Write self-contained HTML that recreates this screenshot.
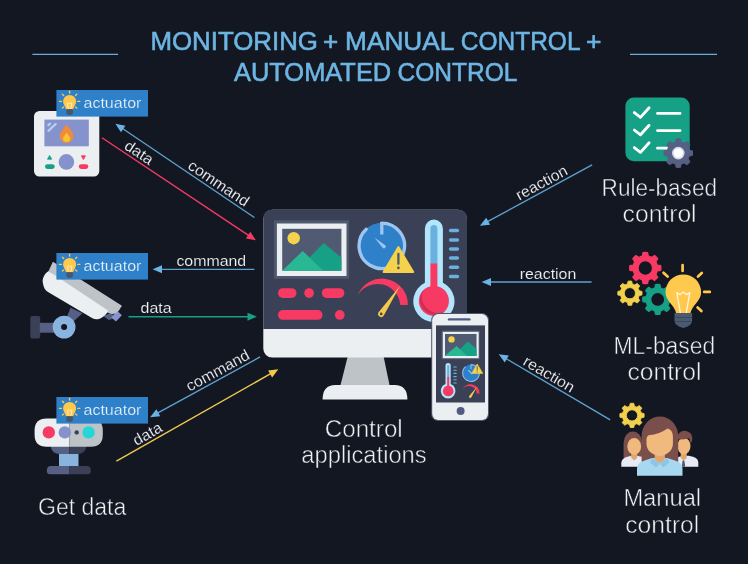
<!DOCTYPE html>
<html><head><meta charset="utf-8">
<style>
html,body{margin:0;padding:0;background:#131722;}
body{width:748px;height:564px;overflow:hidden;font-family:"Liberation Sans",sans-serif;}
svg{display:block}
text{font-family:"Liberation Sans",sans-serif;}
.t{fill:#6db5e3;font-size:25px;stroke:#6db5e3;stroke-width:.55px;}
.lb{fill:#eef0f3;font-size:23px;stroke:#131722;stroke-width:.5px;}
.sm{fill:#f0f1f3;font-size:15.4px;stroke:#131722;stroke-width:.15px;}
.ac{fill:#e9f2fc;font-size:15.1px;stroke:#2e80c9;stroke-width:.2px;}
</style></head><body>
<svg width="748" height="564" viewBox="0 0 748 564">
<rect width="748" height="564" fill="#131722"/>
<defs>
<filter id="nf" x="0" y="0" width="748" height="564" filterUnits="userSpaceOnUse"><feOffset dx="0" dy="0"/></filter>
<g id="bulbS">
  <g stroke="#ffc94d" stroke-width="1.3" stroke-linecap="round">
    <line x1="0" y1="-10.2" x2="0" y2="-8.2"/><line x1="-10.2" y1="0" x2="-8.2" y2="0"/><line x1="10.2" y1="0" x2="8.2" y2="0"/>
    <line x1="-7.2" y1="-7.2" x2="-5.9" y2="-5.9"/><line x1="7.2" y1="-7.2" x2="5.9" y2="-5.9"/>
    <line x1="-7.2" y1="6.6" x2="-5.9" y2="5.6"/><line x1="7.2" y1="6.6" x2="5.9" y2="5.6"/>
  </g>
  <path d="M-6.5 0a6.5 6.5 0 1 1 13 0c0 3-2.2 4.6-2.9 7.9h-7.2c-.7-3.300-2.900-4.900-2.900-7.900z" fill="#ffc94d"/>
  <path d="M-1.200 7.300l-1.100-5.200q1-1.200 2.300 0q1.300-1.200 2.300 0l-1.100 5.200" fill="none" stroke="#fff3d6" stroke-width=".9"/>
  <path d="M-3.300 7.900h6.600v3.400q0 2-3.300 2.300q-3.300-.3-3.300-2.300z" fill="#4a5568"/>
</g>
<g id="badge">
  <rect x=".4" y="0" width="91.600" height="26.600" fill="#2e80c9"/>
  <use href="#bulbS" x="13.600" y="11.400"/>
  <text class="ac" x="27.500" y="18" textLength="57.900" lengthAdjust="spacingAndGlyphs">actuator</text>
</g>
<path id="ah" d="M0 0l9.400 -4v8z"/>
<path id="gear8" d="M0.736 -0.188L0.954 -0.144A0.965 0.965 0 0 1 0.954 0.144L0.736 0.188A0.760 0.760 0 0 1 0.654 0.388L0.777 0.573A0.965 0.965 0 0 1 0.573 0.777L0.388 0.654A0.760 0.760 0 0 1 0.188 0.736L0.144 0.954A0.965 0.965 0 0 1 -0.144 0.954L-0.188 0.736A0.760 0.760 0 0 1 -0.388 0.654L-0.573 0.777A0.965 0.965 0 0 1 -0.777 0.573L-0.654 0.388A0.760 0.760 0 0 1 -0.736 0.188L-0.954 0.144A0.965 0.965 0 0 1 -0.954 -0.144L-0.736 -0.188A0.760 0.760 0 0 1 -0.654 -0.388L-0.777 -0.573A0.965 0.965 0 0 1 -0.573 -0.777L-0.388 -0.654A0.760 0.760 0 0 1 -0.188 -0.736L-0.144 -0.954A0.965 0.965 0 0 1 0.144 -0.954L0.188 -0.736A0.760 0.760 0 0 1 0.388 -0.654L0.573 -0.777A0.965 0.965 0 0 1 0.777 -0.573L0.654 -0.388A0.760 0.760 0 0 1 0.736 -0.188Z"/>
<path id="gear8h" fill-rule="evenodd" d="M0.736 -0.188L0.954 -0.144A0.965 0.965 0 0 1 0.954 0.144L0.736 0.188A0.760 0.760 0 0 1 0.654 0.388L0.777 0.573A0.965 0.965 0 0 1 0.573 0.777L0.388 0.654A0.760 0.760 0 0 1 0.188 0.736L0.144 0.954A0.965 0.965 0 0 1 -0.144 0.954L-0.188 0.736A0.760 0.760 0 0 1 -0.388 0.654L-0.573 0.777A0.965 0.965 0 0 1 -0.777 0.573L-0.654 0.388A0.760 0.760 0 0 1 -0.736 0.188L-0.954 0.144A0.965 0.965 0 0 1 -0.954 -0.144L-0.736 -0.188A0.760 0.760 0 0 1 -0.654 -0.388L-0.777 -0.573A0.965 0.965 0 0 1 -0.573 -0.777L-0.388 -0.654A0.760 0.760 0 0 1 -0.188 -0.736L-0.144 -0.954A0.965 0.965 0 0 1 0.144 -0.954L0.188 -0.736A0.760 0.760 0 0 1 0.388 -0.654L0.573 -0.777A0.965 0.965 0 0 1 0.777 -0.573L0.654 -0.388A0.760 0.760 0 0 1 0.736 -0.188ZM0.445 0A0.445 0.445 0 1 0 -0.445 0A0.445 0.445 0 1 0 0.445 0Z"/>
</defs>

<g filter="url(#nf)">
<!-- title -->
<g class="t">
<text x="150.400" y="50.300" textLength="167.600" lengthAdjust="spacingAndGlyphs">MONITORING</text>
<text x="323.100" y="50.300" textLength="15.200" lengthAdjust="spacingAndGlyphs">+</text>
<text x="345.100" y="50.300" textLength="109.200" lengthAdjust="spacingAndGlyphs">MANUAL</text>
<text x="460.800" y="50.300" textLength="119.700" lengthAdjust="spacingAndGlyphs">CONTROL</text>
<text x="586" y="50.300" textLength="15.500" lengthAdjust="spacingAndGlyphs">+</text>
<text x="234" y="81.400" textLength="157.200" lengthAdjust="spacingAndGlyphs">AUTOMATED</text>
<text x="397.500" y="81.400" textLength="120" lengthAdjust="spacingAndGlyphs">CONTROL</text>
</g>
<line x1="32.400" y1="54.300" x2="118.100" y2="54.300" stroke="#69aedb" stroke-width="1.350"/>
<line x1="630" y1="54.300" x2="717" y2="54.300" stroke="#69aedb" stroke-width="1.350"/>

<!-- ARROWS -->
<g id="arrows" stroke-width="1.350" fill="none">
  <line x1="254.400" y1="217.500" x2="121" y2="127.500" stroke="#5da1cf"/>
  <line x1="102" y1="137.800" x2="250" y2="236.400" stroke="#f73a63"/>
  <line x1="254.400" y1="269.300" x2="160" y2="269.300" stroke="#5da1cf"/>
  <line x1="128.500" y1="316.700" x2="250" y2="316.700" stroke="#16a085"/>
  <line x1="260.100" y1="356.900" x2="157" y2="413.400" stroke="#5da1cf"/>
  <line x1="116.400" y1="461.200" x2="272" y2="372.900" stroke="#f2c94c"/>
  <line x1="592.100" y1="164.800" x2="487" y2="221.900" stroke="#5da1cf"/>
  <line x1="591.600" y1="282" x2="489" y2="282" stroke="#5da1cf"/>
  <line x1="610.200" y1="419.800" x2="505" y2="358" stroke="#5da1cf"/>
</g>
<g id="heads">
  <use href="#ah" fill="#6bb3e2" transform="translate(115.400 123.700) rotate(34)"/>
  <use href="#ah" fill="#f73a63" transform="translate(255.900 240.300) rotate(213.700)"/>
  <use href="#ah" fill="#6bb3e2" transform="translate(152.600 269.300)"/>
  <use href="#ah" fill="#16a085" transform="translate(256.900 316.700) rotate(180)"/>
  <use href="#ah" fill="#6bb3e2" transform="translate(150.100 417.200) rotate(-28.700)"/>
  <use href="#ah" fill="#f2c94c" transform="translate(278.300 369.300) rotate(150.400)"/>
  <use href="#ah" fill="#6bb3e2" transform="translate(479.900 225.700) rotate(-28.500)"/>
  <use href="#ah" fill="#6bb3e2" transform="translate(481.600 282)"/>
  <use href="#ah" fill="#6bb3e2" transform="translate(498.700 354.300) rotate(30.500)"/>
</g>

<!-- arrow labels -->
<g class="sm" text-anchor="middle">
  <text transform="translate(136.300 156.800) rotate(33.700)" textLength="31.100" lengthAdjust="spacingAndGlyphs">data</text>
  <text transform="translate(215.800 187.600) rotate(34)" textLength="69.800" lengthAdjust="spacingAndGlyphs">command</text>
  <text x="211.300" y="266.100" textLength="69.800" lengthAdjust="spacingAndGlyphs">command</text>
  <text x="156.100" y="313.100" textLength="31.100" lengthAdjust="spacingAndGlyphs">data</text>
  <text transform="translate(220.200 375.100) rotate(-28.700)" textLength="69.800" lengthAdjust="spacingAndGlyphs">command</text>
  <text transform="translate(150 438.400) rotate(-29.600)" textLength="31.100" lengthAdjust="spacingAndGlyphs">data</text>
  <text transform="translate(544 187.300) rotate(-28.500)" textLength="56.600" lengthAdjust="spacingAndGlyphs">reaction</text>
  <text x="548" y="279.200" textLength="56.600" lengthAdjust="spacingAndGlyphs">reaction</text>
  <text transform="translate(546.400 378.600) rotate(30.400)" textLength="56.600" lengthAdjust="spacingAndGlyphs">reaction</text>
</g>

<!-- big labels -->
<g class="lb">
  <text x="324.800" y="437.100" textLength="77.900" lengthAdjust="spacingAndGlyphs">Control</text>
  <text x="301.300" y="463.200" textLength="125.400" lengthAdjust="spacingAndGlyphs">applications</text>
  <text x="38" y="515.400" textLength="88.300" lengthAdjust="spacingAndGlyphs">Get data</text>
  <text x="601.600" y="195.500" textLength="115.400" lengthAdjust="spacingAndGlyphs">Rule-based</text>
  <text x="622.600" y="222.100" textLength="74" lengthAdjust="spacingAndGlyphs">control</text>
  <text x="613.500" y="353.700" textLength="101.700" lengthAdjust="spacingAndGlyphs">ML-based</text>
  <text x="627.500" y="380.100" textLength="74" lengthAdjust="spacingAndGlyphs">control</text>
  <text x="623.400" y="506" textLength="77.700" lengthAdjust="spacingAndGlyphs">Manual</text>
  <text x="625.300" y="532.700" textLength="74" lengthAdjust="spacingAndGlyphs">control</text>
</g>

<!--DEVICES-->
<!-- thermostat -->
<g id="thermo">
  <rect x="34" y="111" width="65.300" height="65.500" rx="5.500" fill="#eceff1"/>
  <rect x="44.400" y="119.600" width="44.400" height="26.700" fill="#8592cc"/>
  <g stroke="#b3d1f0" stroke-width="2.300" stroke-linecap="round"><line x1="48.400" y1="125.200" x2="50.100" y2="123.700"/><line x1="48.400" y1="130.800" x2="55.700" y2="124"/></g>
  <path d="M66.600 124c1 3.200 6.800 6.800 6.800 12.200a6.800 6.800 0 0 1-13.600 0c0-5.400 5.800-9 6.800-12.200z" fill="#f08a3c"/>
  <path d="M66.600 132.400c.5 1.700 3.500 3.400 3.500 6a3.500 3.500 0 0 1-7 0c0-2.600 3-4.300 3.500-6z" fill="#f7c52d"/>
  <circle cx="66.400" cy="161.900" r="7.800" fill="#8592cc"/>
  <path d="M49.600 155.400l2.100 3.800h-4.200z" fill="#16a085" stroke="#16a085" stroke-width=".8" stroke-linejoin="round"/>
  <rect x="45" y="164.200" width="9.700" height="4.800" rx="2.400" fill="#16a085"/>
  <path d="M83.400 159.600l2.100-3.800h-4.200z" fill="#f73a63" stroke="#f73a63" stroke-width=".8" stroke-linejoin="round"/>
  <rect x="78.800" y="164.200" width="9.500" height="4.800" rx="2.400" fill="#f73a63"/>
</g>
<!-- camera -->
<g id="camera">
  <rect x="30.300" y="316.100" width="9.900" height="22.500" rx="2" fill="#3a4156"/>
  <rect x="39.800" y="322.800" width="16" height="9.900" fill="#565f84"/>
  <path d="M70.500 307.700L82.400 313.200L72.900 322L66.800 317.200z" fill="#565f84"/>
  <circle cx="64.100" cy="327.100" r="11.400" fill="#8ab4e0"/>
  <circle cx="64.100" cy="327.100" r="3" fill="#131722"/>
  <path d="M103.200 316.100L111.200 312.800L115.200 318L108.800 320.100z" fill="#565f84"/>
  <path d="M117.100 310.800L121.900 315.300L116 321.500L111.200 317.500z" fill="#8592cc"/>
  <path d="M52.900 261.700L121.900 305.700L119.300 310Q116 314.500 111 313.800L100 310L48.600 271z" fill="#bdc3c7"/>
  <path d="M48.600 271C44 274 42 279 42.900 283C43.500 287.500 45 290 48 292L92 318C95 319.800 99 319.800 102 317.500C105 315.500 107.500 313 108 310.400z" fill="#eceff1"/>
</g>
<!-- sensor -->
<g id="sensor">
  <path d="M50.800 446h18.600v8.300h-8.700q-9.900-1-9.900-8.300z" fill="#565f84"/>
  <path d="M86.400 446h-17v8.300h7.300q9.700-1 9.700-8.300z" fill="#3a4156"/>
  <rect x="59" y="454" width="19.500" height="12.200" fill="#8ab4e0"/>
  <path d="M46.900 470.200q0-4.300 4.300-4.300h18.200v8.400h-19.500q-3 0-3-3z" fill="#565f84"/>
  <path d="M90.800 470.200q0-4.300-4.300-4.300h-17.100v8.400h18.400q3 0 3-3z" fill="#3a4156"/>
  <path d="M69.400 418.500h-22.800q-12 0-12 12v4.300q0 12 12 12h22.800z" fill="#eceff1"/>
  <path d="M69.400 418.500h21.400q12 0 12 12v4.300q0 12-12 12h-21.400z" fill="#bdc3c7"/>
  <circle cx="48.800" cy="432.400" r="6.200" fill="#f73a63"/>
  <circle cx="64.800" cy="432.400" r="6.200" fill="#8592cc"/>
  <circle cx="76.700" cy="432.400" r="2.200" fill="#3a4156"/>
  <circle cx="88.600" cy="432.400" r="6.200" fill="#26d6d6"/>
</g>
<!--/DEVICES-->
<!--MONITOR-->
<g id="monitor">
  <path d="M347.600 357h36.100l5.900 28.500h-49.200z" fill="#bdc3c7"/>
  <path d="M322.600 399.600q0-14.600 12.700-14.600h59.400q12.700 0 12.700 14.600z" fill="#eceff1"/>
  <rect x="263.300" y="209.800" width="203.700" height="147.800" rx="9" fill="#eceff1"/>
  <path d="M263.300 329v-110.200q0-9 9-9h185.700q9 0 9 9v110.200z" fill="#3a4156"/>
  <!-- picture -->
  <rect x="273.900" y="220.300" width="75.100" height="58.500" fill="#4f586e"/>
  <rect x="276.900" y="223.500" width="69.600" height="52.500" fill="#eceff1"/>
  <rect x="282.200" y="228.800" width="59.200" height="41.900" fill="#515a73"/>
  <circle cx="293.700" cy="238.200" r="6.200" fill="#f5d24c"/>
  <path d="M323.700 243.100l17.700 14.500v13.100h-45z" fill="#16a085"/>
  <path d="M302.700 250.900l20.500 19.800h-41z" fill="#2ab793"/>
  <!-- clock -->
  <circle cx="381.800" cy="245.800" r="23" fill="#2e80c9"/>
  <path d="M381.800 223.050a22.750 22.750 0 1 1-15.600 6.200" fill="none" stroke="#9cc6f0" stroke-width="3.300" stroke-linecap="round"/>
  <line x1="381.800" y1="222" x2="381.800" y2="234.500" stroke="#9cc6f0" stroke-width="3.300"/>
  <path d="M374.400 237.400L385.500 245.400A1.900 1.900 0 0 1 382.800 248z" fill="#9cc6f0"/>
  <path d="M398.400 247l14.900 25h-29.800z" fill="#f5d24c" stroke="#f5d24c" stroke-width="1.800" stroke-linejoin="round"/>
  <line x1="398.400" y1="254" x2="398.400" y2="263.800" stroke="#4f586e" stroke-width="2.300" stroke-linecap="round"/>
  <circle cx="398.400" cy="267.900" r="1.350" fill="#4f586e"/>
  <!-- pills -->
  <g fill="#f73a63">
    <rect x="278" y="288.200" width="18.500" height="9.700" rx="4.850"/>
    <circle cx="309.100" cy="293.050" r="4.850"/>
    <rect x="321.800" y="288.200" width="22.600" height="9.700" rx="4.850"/>
    <rect x="278" y="310.100" width="44.500" height="9.700" rx="4.850"/>
    <circle cx="339.800" cy="314.950" r="4.850"/>
  </g>
  <!-- gauge -->
  <path d="M357.800 294.900A26 26 0 0 1 407.900 305.100h-7.600A23 23 0 0 0 357.800 294.900z" fill="#f73a63"/>
  <path d="M400.300 285.600L383.800 315.600A3 3 0 0 1 378.600 312.300z" fill="#f2c94c"/>
  <circle cx="381.200" cy="313.900" r="1.300" fill="#3a4156"/>
  <!-- thermometer -->
  <path d="M424.900 228.600a9 9 0 0 1 18 0v54.200a20.600 20.600 0 1 1-18 0z" fill="#b3e5fc"/>
  <path d="M430.400 228.600a3.500 3.500 0 0 1 7 0v36h-7z" fill="#6ab0de"/>
  <path d="M430.400 263.400h7v22.800a15.100 15.100 0 1 1-7 0z" fill="#f73a63"/>
  <path d="M423.500 290a15.100 15.100 0 0 0 21 21.500a16 16 0 0 1-21-21.500z" fill="#cf2f54"/>
  <g stroke="#6ab0de" stroke-width="3.500" stroke-linecap="round">
    <line x1="450.600" y1="230.600" x2="457.400" y2="230.600"/><line x1="450.600" y1="239.900" x2="457.400" y2="239.900"/>
    <line x1="450.600" y1="249.100" x2="457.400" y2="249.100"/><line x1="450.600" y1="258.100" x2="457.400" y2="258.100"/>
    <line x1="450.600" y1="267.300" x2="457.400" y2="267.300"/><line x1="450.600" y1="276.500" x2="457.400" y2="276.500"/>
  </g>
</g>
<g id="phone">
  <rect x="431.200" y="313.100" width="57.800" height="107.900" rx="7" fill="#4f586e"/>
  <rect x="432.200" y="314.100" width="55.800" height="105.900" rx="6.200" fill="#eceff1"/>
  <line x1="449" y1="319.400" x2="469.400" y2="319.400" stroke="#515a80" stroke-width="2.400" stroke-linecap="round"/>
  <rect x="436" y="325.400" width="49" height="77.100" fill="#3a4156"/>
  <circle cx="460.600" cy="411" r="4" fill="#515a80"/>
  <rect x="441.500" y="330.500" width="38.400" height="28.800" fill="#4f586e"/>
  <rect x="442.800" y="331.800" width="35.900" height="26.400" fill="#eceff1"/>
  <rect x="445" y="334" width="31.500" height="22" fill="#515a73"/>
  <circle cx="451.500" cy="339.400" r="3.200" fill="#f5d24c"/>
  <path d="M467.700 341.600l8.800 7.200v7.200h-23z" fill="#16a085"/>
  <path d="M456.600 346l10.400 10h-22v-.200z" fill="#2ab793"/>
  <!-- small thermometer -->
  <path d="M445.500 365.500a2.600 2.600 0 0 1 5.200 0v18.600a7.400 7.400 0 1 1-5.200 0z" fill="#b3e5fc"/>
  <path d="M447.200 366a1 1 0 0 1 2 0v12h-2z" fill="#6ab0de"/>
  <path d="M447.200 377h2v8.800a5.300 5.300 0 1 1-2 0z" fill="#f73a63"/>
  <g stroke="#6ab0de" stroke-width="1.100" stroke-linecap="round">
    <line x1="453.800" y1="367" x2="456.200" y2="367"/><line x1="453.800" y1="370.200" x2="456.200" y2="370.200"/><line x1="453.800" y1="373.400" x2="456.200" y2="373.400"/>
    <line x1="453.800" y1="376.600" x2="456.200" y2="376.600"/><line x1="453.800" y1="379.800" x2="456.200" y2="379.800"/><line x1="453.800" y1="383" x2="456.200" y2="383"/>
  </g>
  <!-- small clock -->
  <circle cx="471" cy="373" r="8.400" fill="#2e80c9"/>
  <path d="M471 364.600a8.400 8.400 0 1 1-5.400 2" fill="none" stroke="#8fbcea" stroke-width="1.100"/>
  <line x1="471" y1="364.400" x2="471" y2="369" stroke="#8fbcea" stroke-width="1.100"/>
  <line x1="471.600" y1="373.500" x2="468.600" y2="370.500" stroke="#8fbcea" stroke-width="1.200" stroke-linecap="round"/>
  <path d="M477.200 363.900l5.600 9.500h-11.200z" fill="#f5d24c" stroke="#f5d24c" stroke-width=".6" stroke-linejoin="round"/>
  <line x1="477.200" y1="366.600" x2="477.200" y2="370.300" stroke="#4f586e" stroke-width=".9" stroke-linecap="round"/>
  <circle cx="477.200" cy="372" r=".55" fill="#4f586e"/>
  <!-- small gauge -->
  <g transform="translate(462.100 389.900) scale(.35) translate(-357.800 -294.900)">
    <path d="M357.800 294.900A26 26 0 0 1 407.900 305.100h-8.400A22.500 22.500 0 0 0 357.800 294.900z" fill="#f73a63"/>
    <path d="M400.300 285.600L384.300 316A3.600 3.600 0 0 1 378 312z" fill="#f2c94c"/>
  </g>
</g>
<!--/MONITOR-->
<!--RIGHTICONS-->
<g id="rule">
  <rect x="625.400" y="97.500" width="64.300" height="63.800" rx="8.500" fill="#16a085"/>
  <g stroke="#fff" stroke-width="2.800" fill="none" stroke-linecap="round" stroke-linejoin="round">
    <path d="M634.300 112.600l6.200 4.800l8.600-9.600"/><line x1="657.500" y1="113.400" x2="680" y2="113.400"/>
    <path d="M634.300 130l6.200 4.800l8.600-9.600"/><line x1="657.500" y1="130.600" x2="680" y2="130.600"/>
    <path d="M634.300 147.600l6.200 4.800l8.600-9.600"/><line x1="657.500" y1="148.200" x2="668" y2="148.200"/>
  </g>
  <use href="#gear8" fill="#565f84" stroke="#565f84" stroke-width=".07" stroke-linejoin="round" transform="translate(678.300 153.100) scale(14.800)"/>
  <circle cx="678.300" cy="153.100" r="6.300" fill="#d5d9e6"/>
  <circle cx="678.300" cy="153.100" r="4.700" fill="#ffffff"/>
</g>
<g id="ml">
  <use href="#gear8h" fill="#f73a63" stroke="#f73a63" stroke-width=".07" stroke-linejoin="round" transform="translate(645.300 268) scale(16.200)"/>
  <use href="#gear8h" fill="#f2d04c" stroke="#f2d04c" stroke-width=".07" stroke-linejoin="round" transform="translate(629.900 293.200) scale(12.600)"/>
  <use href="#gear8h" fill="#16a085" stroke="#16a085" stroke-width=".07" stroke-linejoin="round" transform="translate(657.700 299.400) scale(15.600)"/>
  <g stroke="#ffc94d" stroke-width="2.700" stroke-linecap="round">
    <line x1="682.600" y1="265.200" x2="682.600" y2="271"/>
    <line x1="663.500" y1="272.800" x2="667.600" y2="276.500"/>
    <line x1="701.800" y1="273" x2="698" y2="276.500"/>
    <line x1="704.200" y1="291.900" x2="709.800" y2="291.900"/>
    <line x1="697.600" y1="307.400" x2="701.400" y2="311"/>
  </g>
  <path d="M665.500 292.200a17.800 17.800 0 1 1 35.600 0c0 9-9 12.300-10.800 21.300h-14c-1.800-9-10.800-12.300-10.800-21.300z" fill="#ffc94d"/>
  <path d="M680.400 313l-3.600-20.400l3.300 2l3.200-2.600l3.200 2.600l3.300-2l-3.600 20.400" fill="none" stroke="#fff6df" stroke-width="1.300" stroke-linejoin="round"/>
  <path d="M674.500 313h17.600v7.500q0 5.500-8.800 7.500q-8.800-2-8.800-7.500z" fill="#4a5a70"/>
  <g stroke="#3a4759" stroke-width="1"><line x1="674.500" y1="317.500" x2="692.100" y2="317.500"/><line x1="675" y1="321.500" x2="691.500" y2="321.500"/></g>
</g>
<g id="manual">
  <use href="#gear8h" fill="#f2d04c" stroke="#f2d04c" stroke-width=".07" stroke-linejoin="round" transform="translate(632 415.400) scale(12.600)"/>
  <!-- left woman -->
  <path d="M623.600 443a9.300 11.500 0 0 1 18.600 0v15.200h-18.600z" fill="#7a4f4b"/>
  <path d="M621.300 466.800v-3.500q0-5 6-6.500l4.500-1h5l5 1q5 1.500 5 6.500v3.500z" fill="#e8eaf6"/>
  <path d="M631.200 452h6v6l-3 2.500l-3-2.500z" fill="#e0a870"/>
  <ellipse cx="634.200" cy="446.400" rx="6.900" ry="8.300" fill="#f0b97d"/>
  <!-- right man -->
  <path d="M674 466.800v-4q0-4.500 5-6l4.500-1h5l4.500 1q5.300 1.500 5.300 6v4z" fill="#e8eaf6"/>
  <path d="M680.700 452h6v6l-3 2.500l-3-2.500z" fill="#e0a870"/>
  <ellipse cx="683.900" cy="446.100" rx="6.600" ry="8.400" fill="#f0b97d"/>
  <path d="M677 440Q676.500 434 681.700 431.200Q685 430 687.400 431.500Q691 432.500 691.700 435.500Q693.300 440 690.500 443.600Q690.200 440 689.100 438.300Q683 440 677 439.500z" fill="#7a4f4b"/>
  <path d="M682.600 460.500h1.800l.8 6.300h-3.400z" fill="#4f586e"/>
  <!-- central woman -->
  <path d="M641.600 436a18.300 19.600 0 0 1 36.600 0v26h-36.600z" fill="#7a4f4b"/>
  <path d="M637 475.700v-7q0-6 7-8l8-2.700h15.500l8 2.700q7 2 7 8v7z" fill="#a8d8f0"/>
  <path d="M654.700 452h10.200v7.500l-5.100 4l-5.100-4z" fill="#e0a870"/>
  <path d="M652 458l7.800 5.800l7.700-5.800l2 4.500l-6 5l-3.700-4l-3.700 4l-6-5z" fill="#8cc6e6"/>
  <path d="M646.500 444L646.500 439Q646.600 436.500 648.500 435.200Q660 434 667.500 428.400Q672.900 430 672.900 436L672.900 444Q672.600 453.500 659.700 456.300Q646.800 453.500 646.500 444z" fill="#f0b97d"/>
</g>
<!--/RIGHTICONS-->

<!-- badges (on top of devices) -->
<use href="#badge" x="56" y="90"/>
<use href="#badge" x="56" y="253"/>
<use href="#badge" x="56" y="397"/>
</g>
</svg>
</body></html>
